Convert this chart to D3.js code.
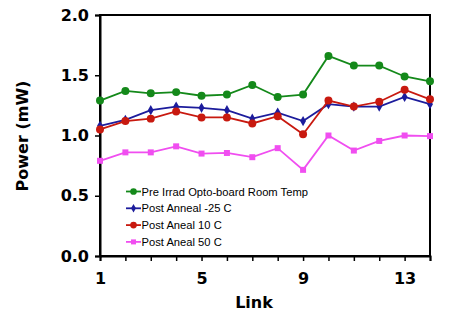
<!DOCTYPE html>
<html><head><meta charset="utf-8">
<script src="https://cdn.jsdelivr.net/npm/d3@7"></script>
<style>body{margin:0;background:#fff;}svg{display:block;}</style>
</head><body>
<svg id="c" width="474" height="324"></svg>
<script>
const links = [1,2,3,4,5,6,7,8,9,10,11,12,13,14];
const preIrrad = [1.29,1.37,1.35,1.36,1.33,1.34,1.42,1.32,1.34,1.66,1.58,1.58,1.49,1.45];
const anneal25 = [1.08,1.13,1.21,1.24,1.23,1.21,1.14,1.19,1.12,1.26,1.24,1.24,1.32,1.26];
const aneal10 = [1.05,1.12,1.14,1.20,1.15,1.15,1.10,1.16,1.01,1.29,1.24,1.28,1.38,1.30];
const aneal50 = [0.79,0.86,0.86,0.91,0.85,0.855,0.82,0.895,0.715,1.00,0.875,0.955,1.00,0.995];
const seriesNames = ["Pre Irrad Opto-board Room Temp","Post Anneal -25 C","Post Aneal 10 C","Post Aneal 50 C"];
const yTicks = [0,0.5,1.0,1.5,2.0];
const xTickLabels = [1,5,9,13];

const series = [
  {name:seriesNames[0], values:preIrrad, color:"#14891a", shape:"circle"},
  {name:seriesNames[1], values:anneal25, color:"#1c1c9c", shape:"diamond"},
  {name:seriesNames[2], values:aneal10, color:"#c8190f", shape:"circle"},
  {name:seriesNames[3], values:aneal50, color:"#f04ef0", shape:"square"}
];

const svg = d3.select("#c");
const L=100, R=430, T=15, B=256;
const x = d3.scaleLinear().domain([1,14]).range([L,R]);
const y = d3.scaleLinear().domain([0,2]).range([B,T]);

// frame
svg.append("rect").attr("x",L).attr("y",T).attr("width",R-L).attr("height",B-T)
  .attr("fill","none").attr("stroke","#000").attr("stroke-width",2);

const yAxis = svg.append("g").attr("transform",`translate(${L},0)`)
  .call(d3.axisLeft(y).tickValues(yTicks).tickFormat(d3.format(".1f")).tickSize(5).tickPadding(6));
const xAxis = svg.append("g").attr("transform",`translate(0,${B})`)
  .call(d3.axisBottom(x).tickValues(links).tickFormat(d=>xTickLabels.includes(d)?d:"").tickSize(5).tickPadding(12));
[yAxis,xAxis].forEach(g=>{
  g.select(".domain").attr("stroke-width",2);
  g.selectAll(".tick line").attr("stroke-width",1.5);
  g.selectAll("text").attr("font-family","DejaVu Sans").attr("font-weight","bold").attr("font-size",16).attr("fill","#000");
});

svg.append("text").attr("transform","translate(28,136) rotate(-90)").attr("text-anchor","middle")
  .attr("font-family","DejaVu Sans").attr("font-weight","bold").attr("font-size",16).text("Power (mW)");
svg.append("text").attr("x",254).attr("y",308).attr("text-anchor","middle")
  .attr("font-family","DejaVu Sans").attr("font-weight","bold").attr("font-size",16).text("Link");

const sym = {circle:d3.symbolCircle, diamond:d3.symbolDiamond, square:d3.symbolSquare};
const sizes = {circle:50, diamond:30, square:36};
const line = d3.line().x((d,i)=>x(links[i])).y(d=>y(d));

series.forEach(s=>{
  svg.append("path").attr("d",line(s.values)).attr("fill","none").attr("stroke",s.color).attr("stroke-width",1.8);
  svg.selectAll(null).data(s.values).enter().append("path")
    .attr("transform",(d,i)=>`translate(${x(links[i])},${y(d)})`)
    .attr("d",d3.symbol().type(sym[s.shape]).size(sizes[s.shape])).attr("fill",s.color);
});

// legend
const lg = svg.append("g");
series.forEach((s,i)=>{
  const yy = 191.5 + i*16.8;
  lg.append("line").attr("x1",126).attr("x2",141).attr("y1",yy).attr("y2",yy).attr("stroke",s.color).attr("stroke-width",1.8);
  lg.append("path").attr("transform",`translate(133.5,${yy})`).attr("d",d3.symbol().type(sym[s.shape]).size(sizes[s.shape]*0.7)).attr("fill",s.color);
  lg.append("text").attr("x",141.5).attr("y",yy+4).attr("font-family","Liberation Sans, Arial").attr("font-size",11.2).attr("fill","#000").text(s.name);
});
</script>
</body></html>
